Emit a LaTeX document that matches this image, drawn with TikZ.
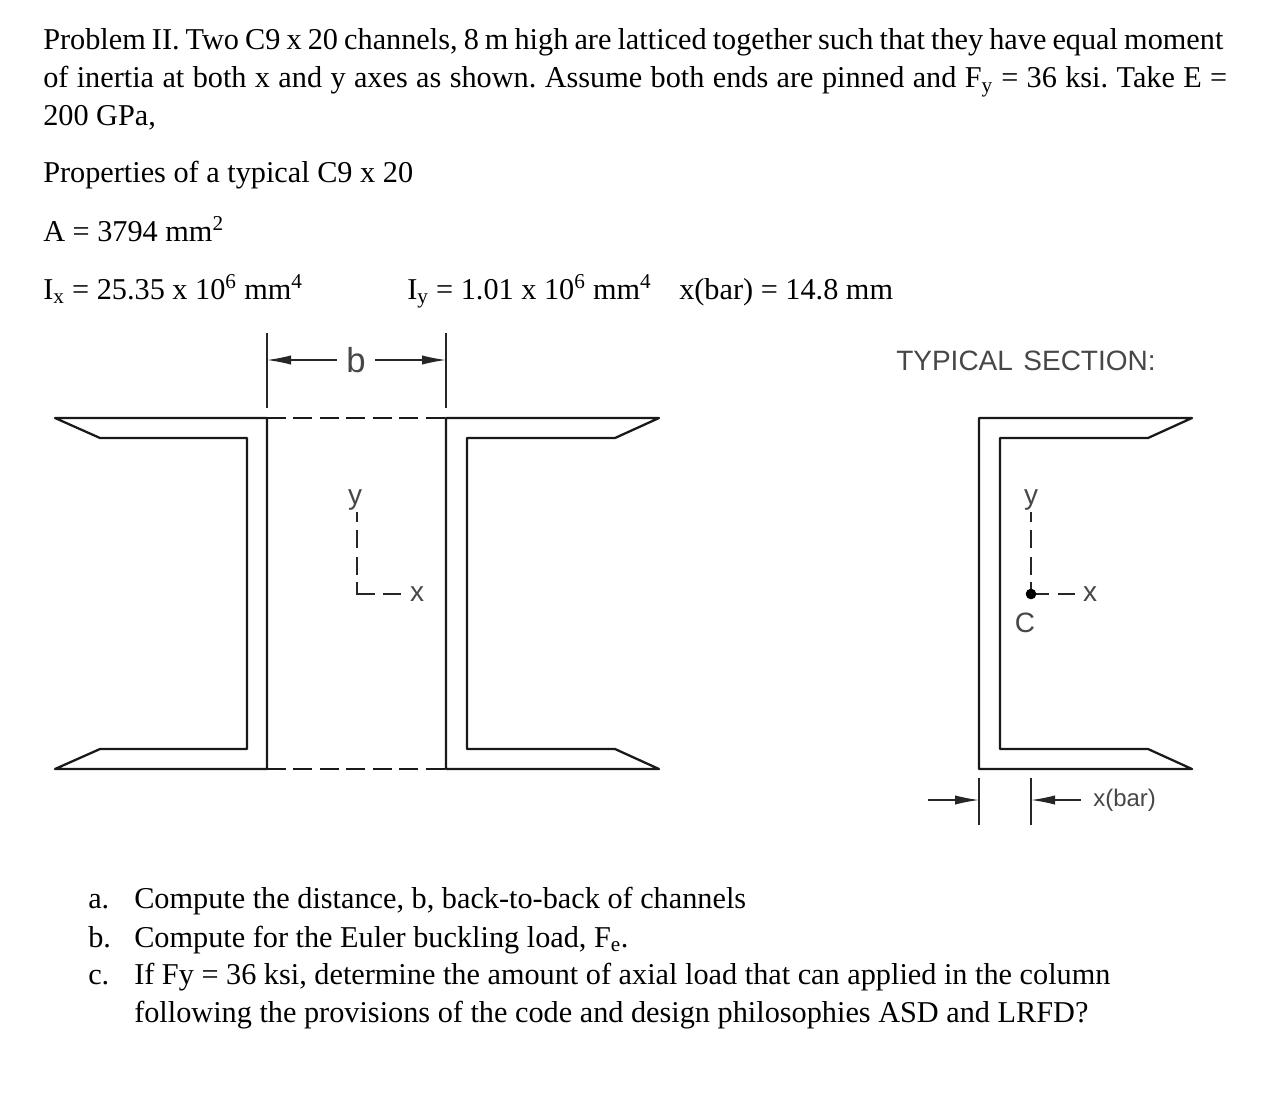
\documentclass[tikz,border=0pt]{standalone}
\usepackage{fontspec}
\setmainfont{Liberation Serif}
\setsansfont{Liberation Sans}
\usetikzlibrary{arrows.meta}
\tikzset{
  txt/.style={anchor=base west,inner sep=0pt,font=\frenchspacing\fontsize{22.7}{26}\selectfont},
  lbl/.style={inner xsep=6pt,inner ysep=1pt,text=black!72,font=\sffamily\fontsize{21}{24}\selectfont},
  steel/.style={line width=1.7pt,line join=round,black!90},
  hidden/.style={line width=1.7pt,black!90,dash pattern=on 14.25pt off 5.6pt},
  extline/.style={line width=1pt,black!85},
  dimarrow/.style={line width=1pt,black!85,-{Latex[length=18pt,width=7pt]}},
  axisline/.style={line width=1.2pt,black!85},
  axisdash/.style={axisline,dash pattern=on 13.5pt off 6.5pt}
}
\begin{document}
\begin{tikzpicture}[x=0.75pt,y=-0.75pt]
        \useasboundingbox (0,0) rectangle (1280,1099);

        % Problem text
        \node[txt] (line1) at (43,50) {\makebox[885pt][s]{Problem II. Two C9 x 20 channels, 8 m high are latticed together such that they have equal moment}};
        \node[txt] (line2) at (43,88) {\makebox[888pt][s]{of inertia at both x and y axes as shown. Assume both ends are pinned and F\textsubscript{y} = 36 ksi. Take E =}};
        \node[txt] (line3) at (43,125) {200 GPa,};
        \node[txt] (props) at (43,182) {Properties of a typical C9 x 20};
        \node[txt] (area) at (43,241) {A = 3794 mm\textsuperscript{2}};
        \node[txt] (ix) at (43,299) {I\textsubscript{x} = 25.35 x 10\textsuperscript{6} mm\textsuperscript{4}};
        \node[txt] (iy) at (407,299) {I\textsubscript{y} = 1.01 x 10\textsuperscript{6} mm\textsuperscript{4}};
        \node[txt] (xbar) at (679,299) {x(bar) = 14.8 mm};

        % Left channel
        \draw[steel] (267,418) -- (55,418) -- (100,438) -- (247,438) -- (247,749) -- (100,749) -- (55,769) -- (267,769) -- cycle;

        % Right channel
        \draw[steel] (446,418) -- (659,418) -- (615,438) -- (467,438) -- (467,749) -- (615,749) -- (659,769) -- (446,769) -- cycle;

        % Lattice lines
        \draw[hidden] (267,418) -- (446,418);
        \draw[hidden] (267,769) -- (446,769);

        % Dimension b
        \node[lbl,inner xsep=7pt,font=\sffamily\fontsize{26}{30}\selectfont] (blabel) at (356,360) {b};
        \coordinate (bleft) at (267,360);
        \coordinate (bright) at (446,360);
        \draw[extline] (267,333) -- (267,408);
        \draw[extline] (446,333) -- (446,408);
        \draw[dimarrow] (blabel) -- (bleft);
        \draw[dimarrow] (blabel) -- (bright);

        % Axes of the pair
        \node[lbl] (y1) at (355,500) {y};
        \node[lbl] (x1) at (417,594) {x};
        \coordinate (o1) at (357,594);
        \draw[axisdash] (357,575) -- (o1 |- y1.south);
        \draw[axisdash] (383,594) -- (o1 -| x1.west);
        \draw[axisline] (357,582) -- (o1) -- (375,594);

        % Typical section
        \node[lbl,anchor=base west,inner sep=0pt] (title) at (896,370) {TYPICAL\hspace{2pt} SECTION:};
        \draw[steel] (1192,418) -- (979,418) -- (979,769) -- (1192,769) -- (1148,749) -- (1000,749) -- (1000,438) -- (1148,438) -- cycle;

        % Axes at the centroid
        \node[lbl] (y2) at (1031,500) {y};
        \node[lbl] (x2) at (1090,594) {x};
        \node[lbl] (c) at (1025,623) {C};
        \coordinate (o2) at (1031,594);
        \draw[axisdash] (1031,575) -- (o2 |- y2.south);
        \draw[axisdash] (o2) -- (o2 -| x2.west);
        \draw[axisline] (1031,582) -- (o2);
        \filldraw[black] (o2) circle (5);

        % Dimension x(bar)
        \node[lbl,anchor=west,inner sep=0pt,font=\sffamily\fontsize{18}{22}\selectfont] (xbarlabel) at (1093,800) {x(bar)};
        \coordinate (dleft) at (979,800);
        \coordinate (dright) at (1031,800);
        \coordinate (dstart) at (928,800);
        \coordinate (dend) at (1081,800);
        \draw[extline] (979,778) -- (979,825);
        \draw[extline] (1031,778) -- (1031,825);
        \draw[dimarrow] (dstart) -- (dleft);
        \draw[dimarrow] (dend) -- (dright);

        % Questions
        \node[txt] (a) at (88,908) {a.};
        \node[txt] (qa) at (134,908) {Compute the distance, b, back-to-back of channels};
        \node[txt] (b) at (88,947) {b.};
        \node[txt] (qb) at (134,947) {Compute for the Euler buckling load, F\textsubscript{e}.};
        \node[txt] (c2) at (88,984) {c.};
        \node[txt] (qc) at (134,984) {If Fy = 36 ksi, determine the amount of axial load that can applied in the column};
        \node[txt] (qc2) at (134,1022) {following the provisions of the code and design philosophies ASD and LRFD?};
\end{tikzpicture}
\end{document}
